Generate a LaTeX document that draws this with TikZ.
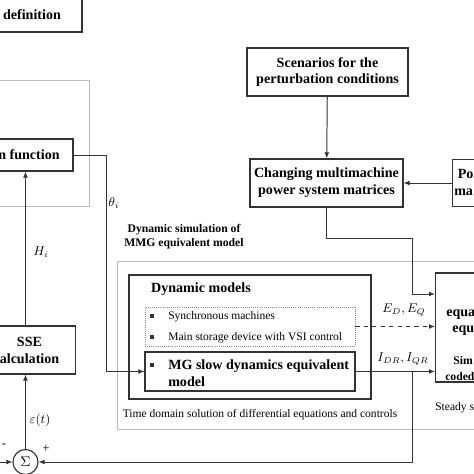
\documentclass[tikz,border=0pt]{standalone}
\usepackage{fontspec}
\setmainfont{Liberation Serif}
\usetikzlibrary{arrows.meta,positioning,calc}
\definecolor{boxline}{HTML}{333333}
\definecolor{frameline}{HTML}{BBBBBB}
\definecolor{dotline}{HTML}{888888}
\tikzset{
  flowbox/.style={draw=boxline, line width=0.8pt, align=center, inner sep=0pt,
    font=\bfseries\fontsize{10}{12}\selectfont},
  framebox/.style={draw=frameline, line width=0.5pt},
  dotbox/.style={draw=dotline, densely dotted, line width=0.5pt, inner sep=0pt},
  arr/.style={-{Latex[length=1.5mm,width=1.2mm]}, line width=0.7pt, draw=boxline},
  lab/.style={inner sep=0pt, font=\fontsize{9}{10}\selectfont},
  smalltxt/.style={inner sep=0pt, align=center, font=\fontsize{8.2}{10}\selectfont},
  smallbold/.style={inner sep=0pt, align=center, font=\bfseries\fontsize{8.3}{9.5}\selectfont},
  boldtxt/.style={inner sep=0pt, font=\bfseries\fontsize{10}{12}\selectfont},
  sq/.style={fill=boxline, minimum size=2.2pt, inner sep=0pt},
  sumnode/.style={circle, draw=boxline, line width=0.8pt, minimum size=0.625cm, inner sep=0pt}
}
\begin{document}
\begin{tikzpicture}[x=0.025cm, y=-0.025cm]
  \useasboundingbox (0,0) rectangle (474,474);
  \clip (0,0) rectangle (474,474);
  % grey frames
  \draw[framebox] (-20,80) rectangle (89,206);
  \draw[framebox] (117,261) rectangle (500,429);
  % left column
  \node[flowbox, minimum width=2.5cm, minimum height=0.85cm] (defbox) at (32,15) {definition};
  \node[flowbox, minimum width=2.2cm, minimum height=0.8cm] (fitbox) at (29,155) {n function};
  \node[flowbox, minimum width=2.3cm, minimum height=1.2cm] (ssebox) at (29.5,350) {SSE\\alculation};
  \node[sumnode] (sum) at (25.5,462) {$\Sigma$};
  % perturbation path
  \node[flowbox, minimum width=4.025cm, minimum height=1.2cm] (scenbox) at (327.5,72)
    {Scenarios for the\\perturbation conditions};
  \node[flowbox, minimum width=3.825cm, minimum height=1.2cm] (matbox) at (326.5,183)
    {Changing multimachine\\power system matrices};
  \node[flowbox, minimum width=2.5cm, minimum height=1.175cm, anchor=west] (powbox) at (452,183) {};
  \node[boldtxt, anchor=base west] (powtxta) at (457.5,178) {Po};
  \node[boldtxt, anchor=base west] (powtxtb) at (454,195) {ma};
  % steady state block
  \node[flowbox, minimum width=3cm, minimum height=2.725cm, anchor=west] (solvebox) at (435,327.5) {};
  \node[boldtxt, anchor=base west] (solvea) at (446,316) {equa};
  \node[boldtxt, anchor=base west] (solveb) at (452,332) {equ};
  \node[smallbold, anchor=base west] (solvec) at (453,364) {Sim};
  \node[smallbold, anchor=base west] (solved) at (445,380) {coded};
  \node[smalltxt, anchor=base west] (steadylab) at (435,410) {Steady s};
  % dynamic models
  \node[smallbold] (dynsim) at (184,236.5) {Dynamic simulation of\\MMG equivalent model};
  \node[flowbox, minimum width=6.05cm, minimum height=3.1cm] (dynbox) at (250,337) {};
  \node[boldtxt] (dyntitle) at (201,289) {Dynamic models};
  \node[dotbox, minimum width=5.25cm, minimum height=0.975cm] (synbox) at (250,326.5) {};
  \node[flowbox, minimum width=5.25cm, minimum height=0.975cm] (mgbox) at (250,371.5) {};
  \foreach \y in {316,337,365}
    \node[sq] at (152,\y) {};
  \node[smalltxt, anchor=base west] (synlab) at (168,319) {Synchronous machines};
  \node[smalltxt, anchor=base west] (storlab) at (168,340) {Main storage device with VSI control};
  \node[boldtxt, anchor=west, align=left] (mglab) at (168,373.5) {MG slow dynamics equivalent\\model};
  \node[smalltxt] (timedom) at (260,415) {Time domain solution of differential equations and controls};
  % junctions
  \coordinate (refin) at (-5,462);
  \coordinate (jt) at (106,371.5);
  \coordinate (jm) at (412,238);
  \coordinate (ein) at (435,294);
  \coordinate (jd) at (412,371.5);
  % connectors
  \draw[arr] (scenbox) -- (matbox);
  \draw[arr] (powbox.west) -- (matbox.east);
  \draw[arr] (matbox.south) |- (jm) |- (ein);
  \draw[arr, dashed] (synbox.east) -- (synbox.east -| solvebox.west);
  \draw[arr] (mgbox.east) -- (mgbox.east -| solvebox.west);
  \draw[arr] (jd) |- (sum.east);
  \draw[arr] (refin) -- (sum.west);
  \draw[arr] (sum.north) -- (sum.north |- ssebox.south);
  \draw[arr] (sum.north |- ssebox.north) -- (sum.north |- fitbox.south);
  \draw[arr] (fitbox.east) -| (jt) -- (mgbox.west);
  % labels
  \node[lab] (thetalab) at (114,203) {$\theta_i$};
  \node[lab] (hlab) at (41,252) {$H_i$};
  \node[lab] (epslab) at (40,420) {$\varepsilon(t)$};
  \node[lab] (edlab) at (404,310) {$E_D, E_Q$};
  \node[lab] (idlab) at (403,359) {$I_{DR}, I_{QR}$};
  \node[lab] (minus) at (4,446) {-};
  \node[lab] (plus) at (46,449) {+};
\end{tikzpicture}
\end{document}
